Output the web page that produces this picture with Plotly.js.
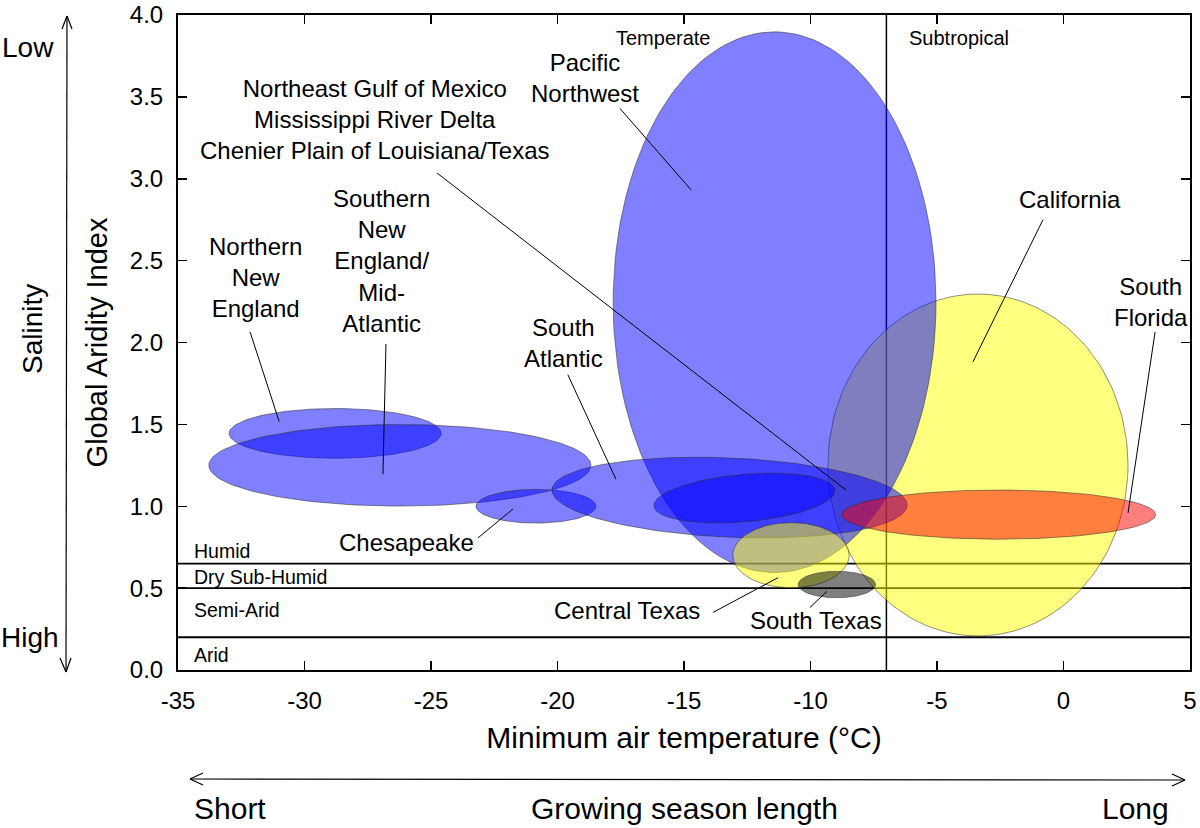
<!DOCTYPE html>
<html>
<head>
<meta charset="utf-8">
<script src="https://cdn.plot.ly/plotly-3.0.1.min.js"></script>
<style>html,body{margin:0;padding:0;background:#fff;}#chart{width:1200px;height:828px;}</style>
</head>
<body>
<div id="chart"></div>
<script>
// ---------- DATA ----------
const regionNames = ['California', 'Pacific Northwest', 'Northern New England',
  'Southern New England/Mid-Atlantic', 'Chesapeake', 'South Atlantic',
  'Northeast Gulf of Mexico / Mississippi River Delta / Chenier Plain of Louisiana/Texas',
  'Central Texas', 'South Texas', 'South Florida'];
const minTempCenter   = [-3.38, -11.42, -28.79, -26.23, -20.85, -13.2, -12.61, -10.77, -8.96, -2.56];
const minTempHalf     = [5.93, 6.38, 4.19, 7.55, 2.37, 7.02, 3.58, 2.30, 1.53, 6.2];
const aridityCenter   = [1.252, 2.246, 1.445, 1.25, 1.0, 1.053, 1.05, 0.701, 0.522, 0.949];
const aridityHalf     = [1.044, 1.651, 0.152, 0.249, 0.103, 0.242, 0.145, 0.199, 0.081, 0.15];
const aridityTilt     = [0, 0, 0, 0, 0, -0.0065, 0.0127, 0, 0, 0];
const colourGroup     = ['yellow', 'blue', 'blue', 'blue', 'blue', 'blue', 'blue', 'yellow', 'gray', 'red'];

const aridityZones      = [0.65, 0.5, 0.2];
const aridityZoneNames  = ['Humid', 'Dry Sub-Humid', 'Semi-Arid', 'Arid'];
const climateBoundary   = -7;
const climateZoneNames  = ['Temperate', 'Subtropical'];

const xTicks = [-35, -30, -25, -20, -15, -10, -5, 0, 5];
const yTicks = [0, 0.5, 1, 1.5, 2, 2.5, 3, 3.5, 4];

// ---------- STYLE / LAYOUT ----------
const FONT = 'Liberation Sans, Arial, Helvetica, sans-serif';
const fills = {
  blue: 'rgba(0,0,255,0.5)', yellow: 'rgba(255,255,0,0.5)',
  gray: 'rgba(0,0,0,0.5)', red: 'rgba(255,0,0,0.5)'
};

const traces = regionNames.map((name, i) => {
  const xs = [], ys = [];
  const N = 160;
  for (let j = 0; j <= N; j++) {
    const t = 2 * Math.PI * j / N;
    const dx = minTempHalf[i] * Math.cos(t);
    xs.push(minTempCenter[i] + dx);
    ys.push(aridityCenter[i] + aridityHalf[i] * Math.sin(t) + aridityTilt[i] * dx);
  }
  return {
    type: 'scatter', mode: 'lines', x: xs, y: ys, name: name,
    fill: 'toself', fillcolor: fills[colourGroup[i]],
    line: {color: 'rgba(40,40,40,0.65)', width: 0.8},
    hoverinfo: 'skip', showlegend: false
  };
});

// pixel -> paper helpers for decorations outside the plot area
const L = 178, R = 10, T = 15, B = 158, W = 1200, H = 828;
const PW = W - L - R, PH = H - T - B;
const PX = px => (px - L) / PW;
const PY = py => (H - B - py) / PH;

const shapes = [];
aridityZones.forEach(v => shapes.push({type: 'line', xref: 'x', yref: 'y', x0: -35, x1: 5, y0: v, y1: v,
  line: {color: '#000', width: 1.8}, layer: 'below'}));
shapes.push({type: 'line', xref: 'x', yref: 'y', x0: climateBoundary, x1: climateBoundary, y0: 0, y1: 4,
  line: {color: '#000', width: 1.5}, layer: 'below'});

const leaders = [
  [-0.81, 2.75, -3.58, 1.882],   // California
  [3.62, 2.064, 2.55, 0.959],    // South Florida
  [-17.53, 3.429, -14.72, 2.932],// Pacific NW
  [-24.76, 3.035, -8.60, 1.099], // NE Gulf group
  [-32.15, 2.064, -31.0, 1.517], // Northern NE
  [-26.78, 1.991, -26.9, 1.196], // Southern NE
  [-19.59, 1.803, -17.69, 1.165],// South Atlantic
  [-23.14, 0.807, -21.76, 0.983],// Chesapeake
  [-13.85, 0.352, -11.28, 0.564],// Central Texas
  [-10.02, 0.382, -9.35, 0.48]   // South Texas
];
leaders.forEach(l => shapes.push({type: 'line', xref: 'x', yref: 'y', x0: l[0], y0: l[1], x1: l[2], y1: l[3],
  line: {color: '#000', width: 1}}));

function seg(x0, y0, x1, y1) {
  shapes.push({type: 'line', xref: 'paper', yref: 'paper', x0: PX(x0), y0: PY(y0), x1: PX(x1), y1: PY(y1),
    line: {color: '#000', width: 1.2}});
}
seg(67, 16, 66, 672);
seg(67, 16, 62, 29); seg(67, 16, 72, 29);
seg(66, 672, 60, 658); seg(66, 672, 71, 658);
seg(190, 779, 1185, 780);
seg(190, 779, 203, 773); seg(190, 779, 203, 785);
seg(1185, 780, 1172, 774); seg(1185, 780, 1172, 786);

const ann = [];
function dataLabel(text, x, y, size, xanchor) {
  ann.push({xref: 'x', yref: 'y', x: x, y: y, text: text, showarrow: false,
    xanchor: xanchor || 'center', yanchor: 'middle', font: {family: FONT, size: size, color: '#000'}});
}
function paperLabel(text, px, py, size, angle) {
  ann.push({xref: 'paper', yref: 'paper', x: PX(px), y: PY(py), text: text, showarrow: false,
    xanchor: 'center', yanchor: 'middle', textangle: angle || 0,
    font: {family: FONT, size: size, color: '#000'}});
}
const LS = 24;
dataLabel('California', 0.26, 2.871, LS);
dataLabel('South<br>Florida', 3.46, 2.246, LS);
dataLabel('Pacific<br>Northwest', -18.91, 3.618, LS);
dataLabel('Northeast Gulf of Mexico<br>Mississippi River Delta<br>Chenier Plain of Louisiana/Texas', -27.21, 3.36, LS);
dataLabel('Northern<br>New<br>England', -31.92, 2.398, LS);
dataLabel('Southern<br>New<br>England/<br>Mid-<br>Atlantic', -26.94, 2.495, LS);
dataLabel('South<br>Atlantic', -19.78, 1.997, LS);
dataLabel('Chesapeake', -25.95, 0.777, LS);
dataLabel('Central Texas', -17.25, 0.364, LS);
dataLabel('South Texas', -9.78, 0.303, LS);
const zoneY = [0.728, 0.571, 0.364, 0.091];
aridityZoneNames.forEach((n, i) => dataLabel(n, -34.45, zoneY[i], 19.5, 'left'));
dataLabel(climateZoneNames[0], -15.83, 3.86, 20);
dataLabel(climateZoneNames[1], -4.13, 3.86, 20);

paperLabel('Low', 28, 47, 28);
paperLabel('High', 30, 637, 28);
paperLabel('Salinity', 33, 329, 28, -90);
paperLabel('Short', 230, 808, 30);
paperLabel('Growing season length', 684, 808, 30);
paperLabel('Long', 1135, 808, 30);

const layout = {
  width: W, height: H,
  margin: {l: L, r: R, t: T, b: B},
  paper_bgcolor: '#fff', plot_bgcolor: '#fff',
  font: {family: FONT, color: '#000'},
  showlegend: false,
  xaxis: {
    range: [-35, 5], tickvals: xTicks, ticktext: xTicks.map(String),
    ticks: 'inside', ticklen: 9, tickwidth: 1.5, tickcolor: '#000',
    showline: true, linewidth: 2, linecolor: '#000', mirror: 'ticks',
    showgrid: false, zeroline: false, ticklabelstandoff: 8, ticklabeloverflow: 'allow',
    tickfont: {family: FONT, size: 24, color: '#000'},
    title: {text: 'Minimum air temperature (°C)', font: {family: FONT, size: 30, color: '#000'}, standoff: 14}
  },
  yaxis: {
    range: [0, 4], tickvals: yTicks, ticktext: yTicks.map(v => v.toFixed(1)),
    ticks: 'inside', ticklen: 9, tickwidth: 1.5, tickcolor: '#000',
    showline: true, linewidth: 2, linecolor: '#000', mirror: 'ticks',
    showgrid: false, zeroline: false, ticklabelstandoff: 8, ticklabeloverflow: 'allow',
    tickfont: {family: FONT, size: 24, color: '#000'},
    title: {text: 'Global Aridity Index', font: {family: FONT, size: 29, color: '#000'}, standoff: 14}
  },
  shapes: shapes,
  annotations: ann
};

Plotly.newPlot('chart', traces, layout, {staticPlot: true, displayModeBar: false});
</script>
</body>
</html>
